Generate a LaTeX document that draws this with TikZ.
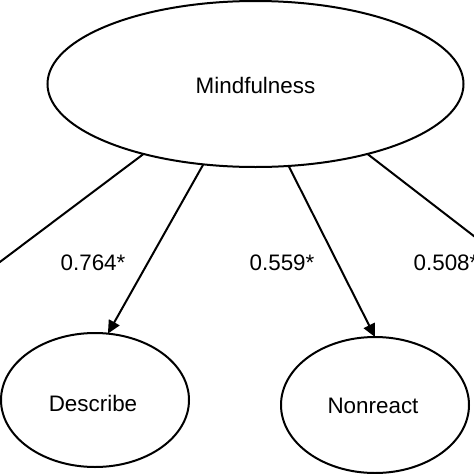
\documentclass[tikz,border=0pt]{standalone}
\usepackage{fontspec}
\setmainfont{Liberation Sans}
\usetikzlibrary{shapes.geometric,arrows.meta}
\begin{document}
\begin{tikzpicture}[x=1pt,y=-1pt,
  latent/.style={draw=black,line width=2pt,ellipse,inner sep=0pt,outer sep=0pt},
  conn/.style={draw=black,line width=2pt},
  arr/.style={conn,-{Triangle[length=13pt,width=12pt]}},
  lbl/.style={inner sep=0pt,font=\fontsize{22.4}{26}\selectfont}]
\useasboundingbox (0,0) rectangle (474,474);
\clip (0,0) rectangle (474,474);
\node[latent,minimum width=416pt,minimum height=166pt] (mind) at (255.5,84) {};
\node[lbl] (mindt) at (255.5,85) {Mindfulness};
\node[latent,minimum width=188pt,minimum height=134pt] (desc) at (95,400) {};
\node[lbl] (desct) at (93,403) {Describe};
\node[latent,minimum width=188pt,minimum height=136pt] (nonr) at (375,405) {};
\node[lbl] (nonrt) at (373,406) {Nonreact};
\coordinate (offl) at (-40,292);
\coordinate (offr) at (514,267);
\draw[conn] (mind.212.1) -- (offl);
\draw[arr] (mind.237) -- (desc.79);
\draw[arr] (mind.292.6) -- (nonr.north);
\draw[conn] (mind.328) -- (offr);
\node[lbl] (l1) at (93,263) {0.764*};
\node[lbl] (l2) at (282,263) {0.559*};
\node[lbl] (l3) at (446,263) {0.508*};
\end{tikzpicture}
\end{document}
